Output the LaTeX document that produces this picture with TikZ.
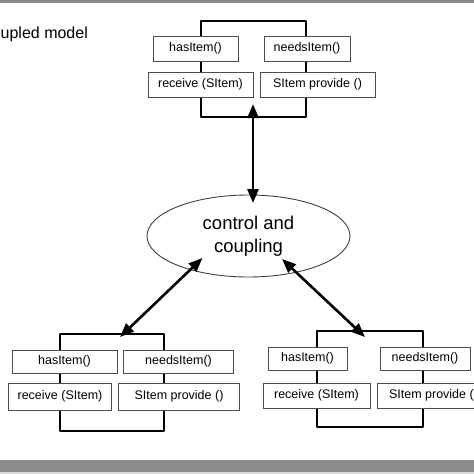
\documentclass[tikz,border=0pt]{standalone}
\usepackage{fontspec}
\setmainfont{Liberation Sans}
\usetikzlibrary{arrows.meta,shapes.geometric}
\tikzset{
  box/.style={draw=black!70, line width=0.9pt, fill=white, rectangle, inner sep=0pt,
    minimum height=25pt, font=\fontsize{12.5}{14}\selectfont, text=black},
  frame/.style={draw=black, line width=2.8pt, line join=round, rectangle, inner sep=0pt},
  arr/.style={line width=2.6pt, {Triangle[length=14pt,width=11pt]}-{Triangle[length=14pt,width=11pt]}},
  band/.style={fill=black!45, draw=none}
}
\begin{document}
\begin{tikzpicture}[x=1pt,y=-1pt]
\useasboundingbox (0,0) rectangle (474,474);
\clip (0,0) rectangle (474,474);
\fill[white] (0,0) rectangle (474,474);
\fill[band] (0,0) rectangle (474,3);
\fill[band] (0,460) rectangle (474,472);
\fill[black!15] (0,472) rectangle (474,474);

\node[anchor=base west, inner sep=0pt, font=\fontsize{16}{18}\selectfont] (title) at (0.5,38) {upled model};

% top group
\node[frame, minimum width=105pt, minimum height=96pt] (tF) at (253.5,69) {};
\node[box, minimum width=85pt] (tH) at (195.5,48.5) {hasItem()};
\node[box, minimum width=86pt] (tN) at (307,48.5) {needsItem()};
\node[box, minimum width=105pt] (tR) at (200.5,84.5) {receive (SItem)};
\node[box, minimum width=115pt] (tP) at (317.5,84.5) {SItem provide ()};

% bottom-left group
\node[frame, minimum width=104pt, minimum height=97pt] (lF) at (112,382.5) {};
\node[box, minimum width=105pt, minimum height=23pt] (lH) at (64.5,361.5) {hasItem()};
\node[box, minimum width=110pt, minimum height=23pt] (lN) at (178.5,361.5) {needsItem()};
\node[box, minimum width=103pt, minimum height=27pt] (lR) at (60,396.5) {receive (SItem)};
\node[box, minimum width=121pt, minimum height=27pt] (lP) at (179,396.5) {SItem provide ()};

% bottom-right group
\node[frame, minimum width=106pt, minimum height=96pt] (rF) at (370,379) {};
\node[box, minimum width=79pt, minimum height=23pt] (rH) at (307.5,358.5) {hasItem()};
\node[box, minimum width=90pt, minimum height=23pt] (rN) at (425,358.5) {needsItem()};
\node[box, minimum width=107pt] (rR) at (316.5,395.5) {receive (SItem)};
\node[box, minimum width=113pt] (rP) at (433.5,395.5) {SItem provide ()};

% ellipse
\node[ellipse, draw=black!75, line width=0.9pt, minimum width=203pt, minimum height=82pt,
  inner sep=0pt, align=center, font=\fontsize{18.5}{23}\selectfont] (ell) at (248.5,236) {control and\\coupling};

% arrow endpoints
\coordinate (aT1) at (253,104);
\coordinate (aT2) at (253,203);
\coordinate (aL1) at (202.5,258);
\coordinate (aL2) at (120,337);
\coordinate (aR1) at (282,259);
\coordinate (aR2) at (365,337);
\draw[arr] (aT1) -- (aT2);
\draw[arr] (aL1) -- (aL2);
\draw[arr] (aR1) -- (aR2);
\end{tikzpicture}
\end{document}
